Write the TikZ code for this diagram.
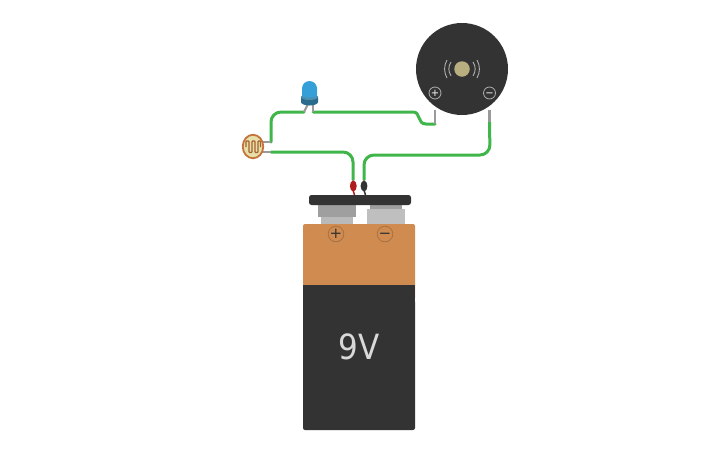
\documentclass[tikz,border=0pt]{standalone}
\usepackage{fontspec}
\usetikzlibrary{shapes.geometric}
\setmainfont{DejaVu Sans}
\definecolor{wiregreen}{HTML}{3FB54A}
\definecolor{leadgray}{HTML}{9A9A9A}
\definecolor{bodydark}{HTML}{333333}
\definecolor{orangeb}{HTML}{D08C50}
\definecolor{ledblue}{HTML}{35A0D8}
\definecolor{leddark}{HTML}{2A6A8C}
\definecolor{ledmid}{HTML}{4A8FB0}
\definecolor{ldrring}{HTML}{C4733A}
\definecolor{ldrfill}{HTML}{E6DFA8}
\definecolor{conecol}{HTML}{B8AE80}
\definecolor{ringgray}{HTML}{B0B0B0}
\definecolor{markring}{HTML}{A87040}
\definecolor{clipred}{HTML}{B01C1C}
\tikzset{
  wire/.style={draw=wiregreen,line width=3pt,rounded corners=10pt,line cap=round},
  lead/.style={draw=leadgray,line width=2.2pt},
  termmark/.style={circle,draw=#1,line width=.8pt,minimum size=13.5pt,inner sep=0pt},
  soundarc/.style={draw=ringgray,line width=.9pt},
  every node/.style={inner sep=0pt}
}
\begin{document}
\begin{tikzpicture}[x=1pt,y=-1pt]
\useasboundingbox (0,0) rectangle (725,453);
% named connection points
\coordinate (ledA) at (304,112);
\coordinate (ledC) at (313,112);
\coordinate (ldrT) at (271,142);
\coordinate (ldrB) at (271,152);
\coordinate (bzP) at (435,124);
\coordinate (bzN) at (489.5,122);
\coordinate (clipR) at (353,180);
\coordinate (clipB) at (364,180);
% wires
\draw[wire] (ldrT) -- (271,112) -- (ledA);
\draw[wire,rounded corners=0pt] (ledC) -- (413,112) .. controls (421,112) and (417,124) .. (426,124) -- (bzP);
\draw[wire] (ldrB) -- (353,152) -- (clipR);
\draw[wire] (clipB) -- (364,155) -- (490,155) -- (bzN);
% LED
\draw[lead] (308,104) -- (ledA);
\draw[lead] (313,104) -- (ledC);
\fill[leddark] (301,96.5) -- (318,96.5) -- (318,102) arc[start angle=0,end angle=-180,x radius=8.5pt,y radius=3.5pt] -- cycle;
\fill[ledmid] (309.5,97) ellipse (8.5pt and 3pt);
\fill[ledblue] (302,95.5) -- (302,88.5) arc[start angle=180,end angle=0,radius=7.5pt] -- (317,95.5) arc[start angle=0,end angle=-180,x radius=7.5pt,y radius=2pt] -- cycle;
% LDR
\draw[lead] (262,142) -- (ldrT);
\draw[lead] (262,152) -- (ldrB);
\node[ellipse,minimum width=20.5pt,minimum height=23.5pt,fill=ldrfill,draw=ldrring,line width=1.8pt] (ldr) at (253,146.5) {};
\draw[draw=ldrring!85!black,line width=1.2pt,rounded corners=.8pt]
 (246,147) -- (246,141) -- (249,141) -- (249,152.5) -- (252,152.5) -- (252,141) -- (255,141) -- (255,152.5) -- (258,152.5) -- (258,141) -- (260.5,141) -- (260.5,147);
% buzzer
\draw[lead] (435,110) -- (bzP);
\draw[lead] (489.5,110) -- (bzN);
\node[circle,fill=bodydark,minimum size=92pt] (bz) at (462,69) {};
\node[circle,fill=conecol,minimum size=15.5pt] (cone) at (462,69) {};
\draw[soundarc] (451,62) arc[start angle=145,end angle=215,radius=12pt];
\draw[soundarc] (447,60) arc[start angle=150,end angle=210,radius=18pt];
\draw[soundarc] (473,62) arc[start angle=35,end angle=-35,radius=12pt];
\draw[soundarc] (477,60) arc[start angle=30,end angle=-30,radius=18pt];
\node[termmark=ringgray,minimum size=12pt,font=\fontsize{10}{10}\selectfont,text=white] (bzplus) at (435,93) {\vphantom{+}+};
\node[termmark=ringgray,minimum size=12pt,font=\fontsize{10}{10}\selectfont,text=white] (bzminus) at (489.5,93) {\vphantom{+}−};
% battery
\fill[gray!55!white] (321,214) rectangle (353,226);
\fill[gray!75!white] (318,204) rectangle (356,217);
\fill[gray!75!white] (370,204) rectangle (402,211);
\fill[gray!50!white] (366.5,209) rectangle (405,226);
\fill[orangeb,rounded corners=2pt] (303,224) rectangle (415,300);
\fill[bodydark,rounded corners=2pt] (303,300) rectangle (415,430);
\fill[bodydark] (303,285) rectangle (415,305);
\fill[bodydark,rounded corners=2.5pt] (309,195) rectangle (411,205);
\node[termmark=markring,font=\fontsize{15}{15}\selectfont,text=bodydark] (battplus) at (336,234) {\vphantom{+}+};
\node[termmark=markring,font=\fontsize{15}{15}\selectfont,text=bodydark] (battminus) at (385,234) {\vphantom{+}−};
\node[font=\fontsize{31}{31}\selectfont,text=white!85!black,yscale=1.12] (volt) at (359,347) {9V};
% clips
\draw[leadgray,line width=2pt] (clipR) -- (353.3,183);
\draw[leadgray,line width=2pt] (clipB) -- (364,183);
\draw[clipred,line width=1.5pt] (353,190) -- (354.5,195);
\draw[bodydark,line width=1.5pt] (364,190) -- (365.5,195);
\fill[clipred] (353.3,186) ellipse (3.4pt and 5.5pt);
\fill[bodydark] (364,186) ellipse (3.4pt and 5.5pt);
\end{tikzpicture}
\end{document}
